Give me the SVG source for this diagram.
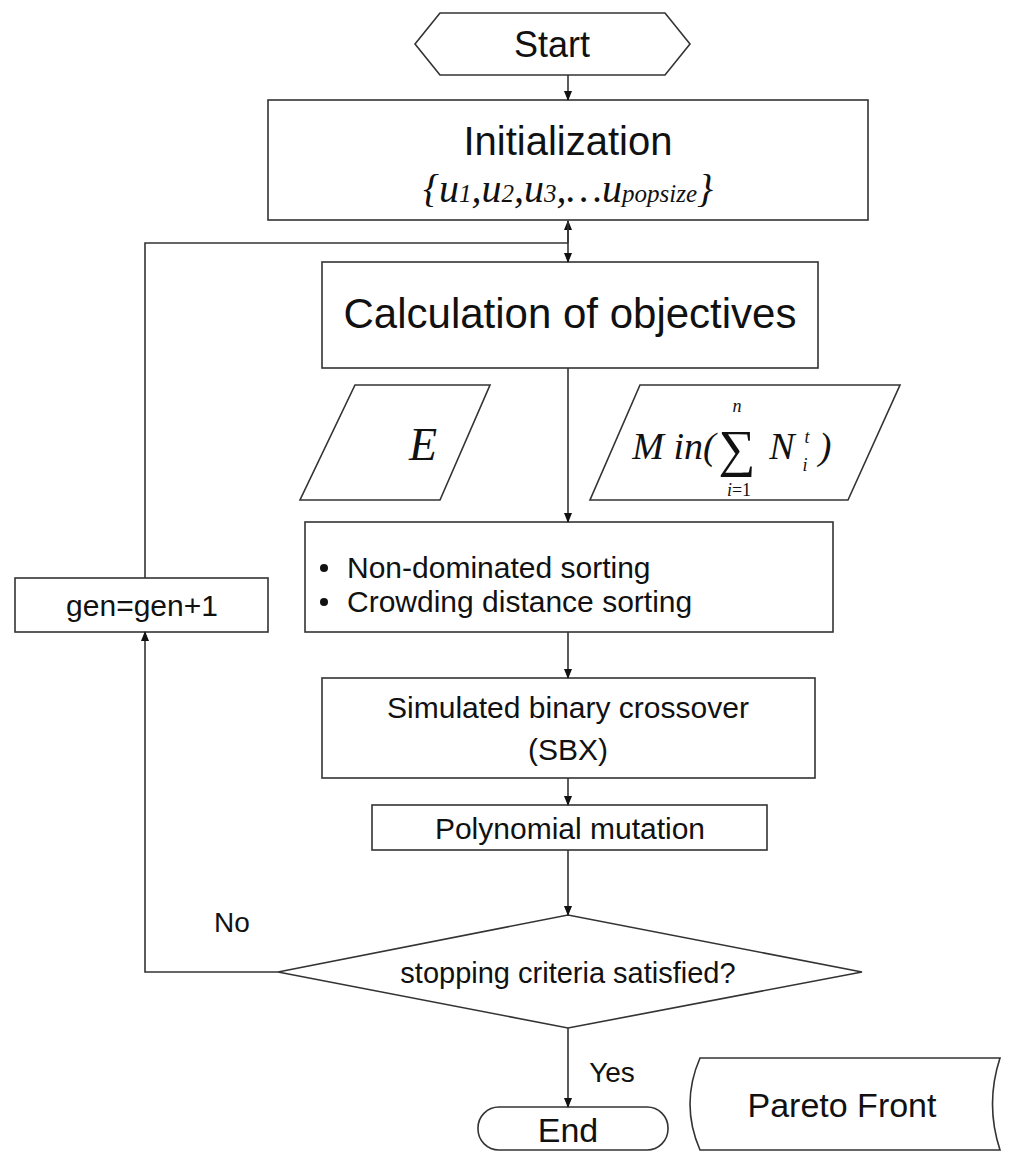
<svg xmlns="http://www.w3.org/2000/svg" width="1024" height="1172" viewBox="0 0 1024 1172">
<style>
.s{fill:#fff;stroke:#333;stroke-width:1.6}
.t{font-family:"Liberation Sans",Arial,sans-serif;fill:#111;text-anchor:middle}
.l{font-family:"Liberation Sans",Arial,sans-serif;fill:#111;text-anchor:start}
.m{font-family:"Liberation Serif","Times New Roman",serif;font-style:italic;fill:#111;text-anchor:middle}
.c{fill:none;stroke:#333;stroke-width:1.6}
</style>
<defs><marker id="a" markerWidth="10" markerHeight="10" refX="9" refY="5" orient="auto" markerUnits="userSpaceOnUse" viewBox="0 0 10 10"><path d="M0,1 L10,5 L0,9 Z" fill="#111"/></marker></defs>
<rect width="1024" height="1172" fill="#fff"/>
<g id="start"><polygon class="s" points="415,44 440,13 665,13 690,44 665,75 440,75"/><text class="t" x="552" y="57" font-size="36">Start</text></g>
<g id="init"><rect class="s" x="268" y="100" width="600" height="120"/><text class="t" x="568" y="155" font-size="40">Initialization</text>
<text class="m" x="568" y="202" font-size="40">{u<tspan font-size="25">1</tspan>,u<tspan font-size="25">2</tspan>,u<tspan font-size="25">3</tspan>,…u<tspan font-size="25">popsize</tspan>}</text></g>
<g id="calc"><rect class="s" x="322" y="262" width="496" height="106"/><text class="t" x="570" y="328" font-size="42">Calculation of objectives</text></g>
<g id="e"><polygon class="s" points="355,385 490,385 440,500 300,500"/><text class="m" x="423" y="460" font-size="46">E</text></g>
<g id="min"><polygon class="s" points="640,385 900,385 848,500 590,500"/>
<text class="m" x="674" y="459" font-size="38">M in(</text><text class="m" x="737" y="466" font-size="52" font-style="normal">∑</text><text class="m" x="737" y="412" font-size="18">n</text><text class="m" x="739" y="496" font-size="18">i<tspan font-style="normal">=1</tspan></text><text class="m" x="782" y="459" font-size="38">N</text><text class="m" x="807" y="443" font-size="18">t</text><text class="m" x="805" y="471" font-size="18">i</text><text class="m" x="825" y="459" font-size="38" font-style="normal">)</text></g>
<g id="sort"><rect class="s" x="305" y="522" width="528" height="110"/>
<circle cx="324" cy="568" r="4" fill="#111"/><circle cx="324" cy="602" r="4" fill="#111"/>
<text class="l" x="347" y="578" font-size="30">Non-dominated sorting</text>
<text class="l" x="347" y="612" font-size="30">Crowding distance sorting</text></g>
<g id="gen"><rect class="s" x="15" y="578" width="253" height="54"/><text class="t" x="142" y="616" font-size="30">gen=gen+1</text></g>
<g id="sbx"><rect class="s" x="322" y="678" width="493" height="100"/><text class="t" x="568" y="718" font-size="30">Simulated binary crossover</text><text class="t" x="568" y="760" font-size="30">(SBX)</text></g>
<g id="poly"><rect class="s" x="372" y="805" width="395" height="45"/><text class="t" x="570" y="839" font-size="30">Polynomial mutation</text></g>
<g id="dec"><polygon class="s" points="278,972 568,915 862,972 568,1028"/><text class="t" x="568" y="983" font-size="29">stopping criteria satisfied?</text></g>
<g id="end"><rect class="s" x="478" y="1107" width="190" height="43" rx="21"/><text class="t" x="568" y="1142" font-size="34">End</text></g>
<g id="pareto"><path class="s" d="M700,1058 L1000,1058 Q985,1104 1000,1150 L700,1150 Q680,1104 700,1058 Z"/><text class="t" x="842" y="1117" font-size="34">Pareto Front</text></g>
<g id="connectors">
<line class="c" x1="568" y1="75" x2="568" y2="100" marker-end="url(#a)"/>
<line class="c" x1="568" y1="243" x2="568" y2="221" marker-end="url(#a)"/>
<line class="c" x1="568" y1="222" x2="568" y2="262" marker-end="url(#a)"/>
<polyline class="c" points="145,578 145,243 568,243"/>
<line class="c" x1="568" y1="368" x2="568" y2="522" marker-end="url(#a)"/>
<line class="c" x1="568" y1="632" x2="568" y2="678" marker-end="url(#a)"/>
<line class="c" x1="568" y1="778" x2="568" y2="805" marker-end="url(#a)"/>
<line class="c" x1="568" y1="850" x2="568" y2="915" marker-end="url(#a)"/>
<polyline class="c" points="278,972 145,972 145,632" marker-end="url(#a)"/>
<line class="c" x1="568" y1="1028" x2="568" y2="1107" marker-end="url(#a)"/>
<text class="t" x="232" y="932" font-size="28">No</text>
<text class="t" x="612" y="1082" font-size="28">Yes</text>
</g>
</svg>
